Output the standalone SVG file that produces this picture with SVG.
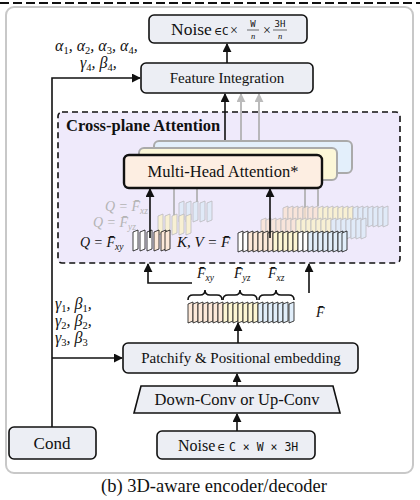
<svg xmlns="http://www.w3.org/2000/svg" width="420" height="500" viewBox="0 0 420 500">
<style>
.box{fill:#eceef4;stroke:#111;stroke-width:1.6}
.t{font-family:"Liberation Serif","DejaVu Serif",serif;fill:#111}
.m{font-family:"Liberation Serif","DejaVu Serif",serif;font-style:italic;fill:#111}
.mono{font-family:"DejaVu Sans Mono","Liberation Mono",monospace;fill:#111}
.ln{stroke:#111;stroke-width:1.6;fill:none}
.gl{stroke:#aaa;stroke-width:1.6;fill:none}
.p{stroke:#111;stroke-width:0.8}
.pf{stroke:#aaa;stroke-width:0.8}
.sub{font-size:10.5px;font-style:normal}
</style>
<defs>
<marker id="ahb" viewBox="0 0 10 10" refX="9" refY="5" markerWidth="9" markerHeight="9" orient="auto" markerUnits="userSpaceOnUse">
<path d="M0,0 L10,5 L0,10 Z" fill="#111"/>
</marker>
<marker id="ahg" viewBox="0 0 10 10" refX="9" refY="5" markerWidth="9" markerHeight="9" orient="auto" markerUnits="userSpaceOnUse">
<path d="M0,0 L10,5 L0,10 Z" fill="#bbb"/>
</marker>
<path id="pt" d="M0,2 L5,0 L5,19 L0,21 Z"/>
</defs>

<!-- frame -->
<line x1="0" y1="3" x2="420" y2="3" stroke="#111" stroke-width="2" stroke-dasharray="9 4"/>
<rect x="6" y="7" width="407" height="466" rx="8" fill="#fff" stroke="#c8c8c8" stroke-width="2"/>
<text class="t" x="214" y="492" font-size="18.5" text-anchor="middle">(b) 3D-aware encoder/decoder</text>

<!-- cross-plane region -->
<g id="cross-plane">
<rect x="58" y="112" width="342" height="151" rx="4" fill="#efeafb" stroke="#111" stroke-width="1.6" stroke-dasharray="6 4"/>
<text class="t" x="66" y="131" font-size="16.5" font-weight="bold">Cross-plane Attention</text>
</g>

<g id="connectors">
<line class="gl" x1="241" y1="141" x2="241" y2="94" marker-end="url(#ahg)"/>
<line class="gl" x1="259" y1="141" x2="259" y2="94" marker-end="url(#ahg)"/>
<line class="gl" x1="174" y1="188" x2="174" y2="215"/>
<line class="gl" x1="197" y1="172" x2="197" y2="202"/>
<line class="gl" x1="305" y1="188" x2="305" y2="218"/>
<line class="gl" x1="318" y1="180" x2="318" y2="206"/>
<line class="ln" x1="225" y1="155" x2="225" y2="94" marker-end="url(#ahb)"/>
<line class="ln" x1="227" y1="63" x2="227" y2="44" marker-end="url(#ahb)"/>
<polyline class="ln" points="52,427 52,78 140,78" marker-end="url(#ahb)"/>
<line class="ln" x1="52" y1="358" x2="122" y2="358" marker-end="url(#ahb)"/>
<polyline class="ln" points="192,283 148,283 148,264" marker-end="url(#ahb)"/>
<line class="ln" x1="309" y1="293" x2="309" y2="264" marker-end="url(#ahb)"/>
<line class="ln" x1="238" y1="343" x2="238" y2="323" marker-end="url(#ahb)"/>
<line class="ln" x1="237" y1="386" x2="237" y2="374" marker-end="url(#ahb)"/>
<line class="ln" x1="237" y1="431" x2="237" y2="414" marker-end="url(#ahb)"/>
</g>

<g id="back-boxes">
<rect x="154" y="141" width="198" height="32" rx="5" fill="#e3effb" stroke="#aaa" stroke-width="2"/>
<rect x="139" y="148" width="198" height="32" rx="5" fill="#fcf7d8" stroke="#aaa" stroke-width="2"/>
</g>

<g id="faded-patches" opacity="0.75">
<g fill="#dbeaf8" class="pf">
<use href="#pt" x="179" y="201"/><use href="#pt" x="186" y="201"/><use href="#pt" x="193" y="201"/><use href="#pt" x="200" y="201"/><use href="#pt" x="207" y="201"/>
</g>
<g fill="#fbf3c6" class="pf">
<use href="#pt" x="158" y="214"/><use href="#pt" x="165" y="214"/><use href="#pt" x="172" y="214"/><use href="#pt" x="179" y="214"/><use href="#pt" x="186" y="214"/>
</g>
<g class="pf">
<use href="#pt" x="283" y="206" fill="#fbe3cf"/><use href="#pt" x="288" y="206" fill="#fbe3cf"/><use href="#pt" x="293" y="206" fill="#fbe3cf"/><use href="#pt" x="298" y="206" fill="#fbe3cf"/><use href="#pt" x="303" y="206" fill="#fbe3cf"/><use href="#pt" x="308" y="206" fill="#fbe3cf"/><use href="#pt" x="313" y="206" fill="#fbe3cf"/>
<use href="#pt" x="318" y="206" fill="#fbf3c6"/><use href="#pt" x="323" y="206" fill="#fbf3c6"/><use href="#pt" x="328" y="206" fill="#fbf3c6"/><use href="#pt" x="333" y="206" fill="#fbf3c6"/><use href="#pt" x="338" y="206" fill="#fbf3c6"/><use href="#pt" x="343" y="206" fill="#fbf3c6"/><use href="#pt" x="348" y="206" fill="#fbf3c6"/>
<use href="#pt" x="353" y="206" fill="#dbeaf8"/><use href="#pt" x="358" y="206" fill="#dbeaf8"/><use href="#pt" x="363" y="206" fill="#dbeaf8"/><use href="#pt" x="368" y="206" fill="#dbeaf8"/><use href="#pt" x="373" y="206" fill="#dbeaf8"/><use href="#pt" x="378" y="206" fill="#dbeaf8"/><use href="#pt" x="383" y="206" fill="#dbeaf8"/>
</g>
<g class="pf">
<use href="#pt" x="261" y="218" fill="#fbe3cf"/><use href="#pt" x="266" y="218" fill="#fbe3cf"/><use href="#pt" x="271" y="218" fill="#fbe3cf"/><use href="#pt" x="276" y="218" fill="#fbe3cf"/><use href="#pt" x="281" y="218" fill="#fbe3cf"/><use href="#pt" x="286" y="218" fill="#fbe3cf"/><use href="#pt" x="291" y="218" fill="#fbe3cf"/>
<use href="#pt" x="296" y="218" fill="#fbf3c6"/><use href="#pt" x="301" y="218" fill="#fbf3c6"/><use href="#pt" x="306" y="218" fill="#fbf3c6"/><use href="#pt" x="311" y="218" fill="#fbf3c6"/><use href="#pt" x="316" y="218" fill="#fbf3c6"/><use href="#pt" x="321" y="218" fill="#fbf3c6"/><use href="#pt" x="326" y="218" fill="#fbf3c6"/>
<use href="#pt" x="331" y="218" fill="#dbeaf8"/><use href="#pt" x="336" y="218" fill="#dbeaf8"/><use href="#pt" x="341" y="218" fill="#dbeaf8"/><use href="#pt" x="346" y="218" fill="#dbeaf8"/><use href="#pt" x="351" y="218" fill="#dbeaf8"/><use href="#pt" x="356" y="218" fill="#dbeaf8"/><use href="#pt" x="361" y="218" fill="#dbeaf8"/>
</g>
</g>
<g id="faded-labels">
<text class="m" x="105" y="211" font-size="14" style="fill:#b4b4b4">Q = F̄<tspan font-size="9.5" dy="3">xz</tspan></text>
<text class="m" x="93" y="227" font-size="14" style="fill:#b4b4b4">Q = F̄<tspan font-size="9.5" dy="3">yz</tspan></text>
</g>

<g id="mha">
<rect x="124" y="155" width="198" height="33" rx="5" fill="#fdeee2" stroke="#111" stroke-width="2.4"/>
<text class="t" x="223" y="177" font-size="16.5" text-anchor="middle">Multi-Head Attention*</text>
</g>

<g id="q-patches">
<text class="m" x="80" y="247" font-size="14">Q = F̄<tspan font-size="9.5" dy="3">xy</tspan></text>
<g class="p">
<use href="#pt" x="133" y="230" fill="#fff"/><use href="#pt" x="140" y="230" fill="#fff"/><use href="#pt" x="147" y="230" fill="#fff"/><use href="#pt" x="154" y="230" fill="#fde9d9"/><use href="#pt" x="161" y="230" fill="#fde9d9"/><use href="#pt" x="165" y="230" fill="#fde9d9"/>
</g>
</g>

<g id="kv-patches">
<text class="m" x="177" y="247" font-size="15">K, V = F̄</text>
<g class="p">
<use href="#pt" x="238" y="231" fill="#fff"/><use href="#pt" x="243" y="231" fill="#fff"/><use href="#pt" x="248" y="231" fill="#fde9d9"/><use href="#pt" x="253" y="231" fill="#fde9d9"/><use href="#pt" x="258" y="231" fill="#fde9d9"/><use href="#pt" x="263" y="231" fill="#fde9d9"/><use href="#pt" x="268" y="231" fill="#fde9d9"/>
<use href="#pt" x="273" y="231" fill="#fdf6d3"/><use href="#pt" x="278" y="231" fill="#fdf6d3"/><use href="#pt" x="283" y="231" fill="#fdf6d3"/><use href="#pt" x="288" y="231" fill="#fdf6d3"/><use href="#pt" x="293" y="231" fill="#fdf6d3"/><use href="#pt" x="298" y="231" fill="#fff"/><use href="#pt" x="303" y="231" fill="#fff"/>
<use href="#pt" x="308" y="231" fill="#e1eefa"/><use href="#pt" x="313" y="231" fill="#e1eefa"/><use href="#pt" x="318" y="231" fill="#e1eefa"/><use href="#pt" x="323" y="231" fill="#e1eefa"/><use href="#pt" x="328" y="231" fill="#e1eefa"/><use href="#pt" x="333" y="231" fill="#e1eefa"/><use href="#pt" x="338" y="231" fill="#e1eefa"/><use href="#pt" x="342" y="231" fill="#e1eefa"/>
</g>
</g>
<g id="connectors-mha">
<line class="ln" x1="150" y1="238" x2="150" y2="189" marker-end="url(#ahb)"/>
<line class="ln" x1="270" y1="238" x2="270" y2="189" marker-end="url(#ahb)"/>
</g>

<g id="patch-strip">
<text class="m" x="197" y="278" font-size="14">F̄<tspan font-size="9.5" dy="3">xy</tspan></text>
<text class="m" x="234" y="278" font-size="14">F̄<tspan font-size="9.5" dy="3">yz</tspan></text>
<text class="m" x="268" y="278" font-size="14">F̄<tspan font-size="9.5" dy="3">xz</tspan></text>
<path class="ln" stroke-width="1" d="M188,300 q0,-5 5,-5 h7 q5,0 5,-5 q0,5 5,5 h7 q5,0 5,5"/>
<path class="ln" stroke-width="1" d="M223,300 q0,-5 5,-5 h7 q5,0 5,-5 q0,5 5,5 h7 q5,0 5,5"/>
<path class="ln" stroke-width="1" d="M259,300 q0,-5 5,-5 h7 q5,0 5,-5 q0,5 5,5 h8 q5,0 5,5"/>
<g class="p">
<use href="#pt" x="188" y="302" fill="#fde9d9"/><use href="#pt" x="193" y="302" fill="#fde9d9"/><use href="#pt" x="198" y="302" fill="#fde9d9"/><use href="#pt" x="203" y="302" fill="#fde9d9"/><use href="#pt" x="208" y="302" fill="#fde9d9"/><use href="#pt" x="213" y="302" fill="#fde9d9"/><use href="#pt" x="218" y="302" fill="#fde9d9"/>
<use href="#pt" x="223" y="302" fill="#fdf6d3"/><use href="#pt" x="228" y="302" fill="#fdf6d3"/><use href="#pt" x="233" y="302" fill="#fdf6d3"/><use href="#pt" x="238" y="302" fill="#fdf6d3"/><use href="#pt" x="243" y="302" fill="#fdf6d3"/><use href="#pt" x="248" y="302" fill="#fdf6d3"/><use href="#pt" x="253" y="302" fill="#fdf6d3"/>
<use href="#pt" x="258" y="302" fill="#e1eefa"/><use href="#pt" x="263" y="302" fill="#e1eefa"/><use href="#pt" x="268" y="302" fill="#e1eefa"/><use href="#pt" x="273" y="302" fill="#e1eefa"/><use href="#pt" x="278" y="302" fill="#e1eefa"/><use href="#pt" x="283" y="302" fill="#e1eefa"/><use href="#pt" x="289" y="302" fill="#e1eefa"/>
</g>
<text class="m" x="316" y="317" font-size="14">F̄</text>
</g>

<g id="cond-labels">
<text class="m" x="55" y="51" font-size="16">α<tspan class="sub" dy="3">1</tspan><tspan dy="-3">, α</tspan><tspan class="sub" dy="3">2</tspan><tspan dy="-3">, α</tspan><tspan class="sub" dy="3">3</tspan><tspan dy="-3">, α</tspan><tspan class="sub" dy="3">4</tspan><tspan dy="-3">,</tspan></text>
<text class="m" x="80" y="68" font-size="16">γ<tspan class="sub" dy="3">4</tspan><tspan dy="-3">, β</tspan><tspan class="sub" dy="3">4</tspan><tspan dy="-3">,</tspan></text>
<text class="m" x="55" y="309" font-size="16">γ<tspan class="sub" dy="3">1</tspan><tspan dy="-3">, β</tspan><tspan class="sub" dy="3">1</tspan><tspan dy="-3">,</tspan></text>
<text class="m" x="55" y="326" font-size="16">γ<tspan class="sub" dy="3">2</tspan><tspan dy="-3">, β</tspan><tspan class="sub" dy="3">2</tspan><tspan dy="-3">,</tspan></text>
<text class="m" x="55" y="343" font-size="16">γ<tspan class="sub" dy="3">3</tspan><tspan dy="-3">, β</tspan><tspan class="sub" dy="3">3</tspan></text>
</g>

<g id="noise-out">
<rect class="box" x="149" y="15" width="158" height="28" rx="5"/>
<text class="t" x="171" y="35" font-size="17.5">Noise</text>
<text class="t" x="214" y="35" font-size="11">∈</text>
<text class="mono" x="222" y="35" font-size="11">C</text>
<text class="t" x="230" y="35" font-size="14">×</text>
<text class="mono" x="253" y="27" font-size="9" text-anchor="middle">W</text>
<line x1="247" y1="30" x2="259" y2="30" stroke="#111" stroke-width="0.6"/>
<text class="m" x="253" y="39" font-size="8.5" text-anchor="middle">n</text>
<text class="t" x="263" y="35" font-size="14">×</text>
<text class="mono" x="280" y="27" font-size="9" text-anchor="middle">3H</text>
<line x1="273" y1="30" x2="287" y2="30" stroke="#111" stroke-width="0.6"/>
<text class="m" x="280" y="39" font-size="8.5" text-anchor="middle">n</text>
</g>

<g id="feature-integration">
<rect class="box" x="141" y="63" width="172" height="30" rx="5"/>
<text class="t" x="227" y="83" font-size="15" text-anchor="middle">Feature Integration</text>
</g>

<g id="patchify">
<rect class="box" x="123" y="343" width="235" height="30" rx="5"/>
<text class="t" x="241" y="363" font-size="15" text-anchor="middle">Patchify &amp; Positional embedding</text>
</g>

<g id="conv">
<polygon class="box" points="141,386 333,386 340,413 134,413"/>
<text class="t" x="237" y="405" font-size="16.5" text-anchor="middle">Down-Conv or Up-Conv</text>
</g>

<g id="noise-in">
<rect class="box" x="157" y="431" width="158" height="28" rx="5"/>
<text class="t" x="178" y="451" font-size="16">Noise</text>
<text class="t" x="217" y="451" font-size="11">∈</text>
<text class="mono" x="229" y="451" font-size="11.5">C × W × 3H</text>
</g>

<g id="cond">
<rect class="box" x="9" y="427" width="87" height="32" rx="5"/>
<text class="t" x="52" y="449" font-size="17" text-anchor="middle">Cond</text>
</g>
</svg>
